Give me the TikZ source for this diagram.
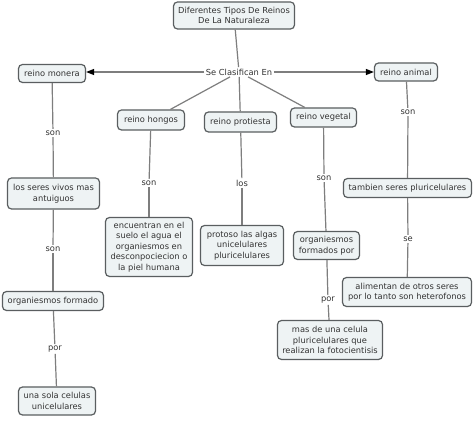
\documentclass[tikz,border=0pt]{standalone}
\usepackage{fontspec}
\setmainfont{DejaVu Sans}
\usetikzlibrary{arrows.meta}
\definecolor{boxfill}{HTML}{EEF3F4}
\definecolor{boxline}{HTML}{5A5E60}
\definecolor{linkgray}{HTML}{7E7E7E}
\definecolor{txtgray}{HTML}{333333}
\begin{document}
\begin{tikzpicture}[x=1pt,y=-1pt,
  font=\fontsize{8.3}{10.5}\selectfont, text=txtgray,
  concept/.style={draw=boxline, line width=1.2pt, fill=boxfill, rounded corners=4pt, align=center, inner sep=2pt},
  lbl/.style={fill=white, inner sep=1.5pt},
  link/.style={draw=linkgray, line width=1.2pt},
  arr/.style={-{Triangle[length=8pt,width=6pt,color=black]}}]
\useasboundingbox (0,0) rectangle (474,435);
\fill[white] (0,0) rectangle (474,435);

\node[concept, minimum width=121, minimum height=27] (title) at (234,15.5) {Diferentes Tipos De Reinos\\De La Naturaleza};
\node[lbl] (sce) at (239,72) {Se Clasifican En};
\node[concept, minimum width=67, minimum height=18] (monera) at (52,73.5) {reino monera};
\node[concept, minimum width=63, minimum height=18] (animal) at (406,72) {reino animal};
\node[concept, minimum width=67, minimum height=20] (hongos) at (151,120) {reino hongos};
\node[concept, minimum width=72, minimum height=20] (protiesta) at (240.5,122) {reino protiesta};
\node[concept, minimum width=66, minimum height=19] (vegetal) at (323.5,117.5) {reino vegetal};
\node[concept, minimum width=92, minimum height=31] (seres) at (53.5,193.5) {los seres vivos mas\\antuiguos};
\node[concept, minimum width=87, minimum height=59] (encuentran) at (149,247) {encuentran en el\\suelo el agua el\\organiesmos en\\desconpociecion o\\la piel humana};
\node[concept, minimum width=101, minimum height=19] (formado) at (53,301) {organiesmos formado};
\node[concept, minimum width=77, minimum height=28] (sola) at (57,401) {una sola celulas\\unicelulares};
\node[concept, minimum width=83, minimum height=40] (protoso) at (242,245.5) {protoso las algas\\unicelulares\\pluricelulares};
\node[concept, minimum width=66, minimum height=28] (formados) at (326.5,245.5) {organiesmos\\formados por};
\node[concept, minimum width=105, minimum height=39] (mas) at (330,340) {mas de una celula\\pluricelulares que\\realizan la fotocientisis};
\node[concept, minimum width=128, minimum height=19] (tambien) at (407.5,188) {tambien seres pluricelulares};
\node[concept, minimum width=129, minimum height=29] (alimentan) at (407,292) {alimentan de otros seres\\por lo tanto son heterofonos};

\node[lbl] (l1) at (53,133) {son};
\node[lbl] (l2) at (149,183) {son};
\node[lbl] (l3) at (242,183) {los};
\node[lbl] (l4) at (324,178) {son};
\node[lbl] (l5) at (408,112) {son};
\node[lbl] (l6) at (53,249) {son};
\node[lbl] (l7) at (55,349) {por};
\node[lbl] (l8) at (328,300) {por};
\node[lbl] (l9) at (408,239) {se};

\draw[link] (title) -- (sce);
\draw[link,arr] (sce) -- (sce -| monera.east);
\draw[link,arr] (sce) -- (sce -| animal.west);
\draw[link] (sce) -- (hongos);
\draw[link] (sce) -- (protiesta);
\draw[link] (sce) -- (vegetal);

\draw[link] (monera) -- (l1);
\draw[link] (l1) -- (seres);
\draw[link] (seres) -- (l6);
\draw[link] (l6) -- (formado);
\draw[link] (formado) -- (l7);
\draw[link] (l7) -- (sola);

\draw[link] (hongos) -- (l2);
\draw[link] (l2) -- (encuentran);

\draw[link] (protiesta) -- (l3);
\draw[link] (l3) -- (protoso);

\draw[link] (vegetal) -- (l4);
\draw[link] (l4) -- (formados);
\draw[link] (formados) -- (l8);
\draw[link] (l8) -- (mas);

\draw[link] (animal) -- (l5);
\draw[link] (l5) -- (tambien);
\draw[link] (tambien) -- (l9);
\draw[link] (l9) -- (alimentan);
\end{tikzpicture}
\end{document}
